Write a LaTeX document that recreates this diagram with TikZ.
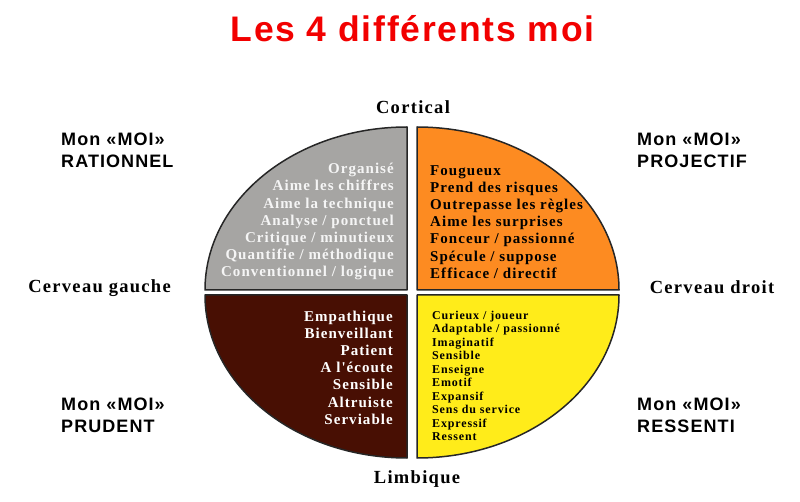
\documentclass[tikz,border=0pt]{standalone}
\usepackage{fontspec}
\setmainfont{Liberation Serif}
\newfontfamily\titlefont[LetterSpace=5]{Liberation Sans}
\newfontfamily\moifont[LetterSpace=6]{Liberation Sans}
\newfontfamily\listfont[LetterSpace=7]{Liberation Serif}
\usetikzlibrary{positioning}
\definecolor{quadgray}{RGB}{166,165,163}
\definecolor{quadorange}{RGB}{253,139,33}
\definecolor{quadbrown}{RGB}{72,15,3}
\definecolor{quadyellow}{RGB}{255,236,26}
\tikzstyle{quad} = [draw=black!85, line width=1.5pt, line join=round]
\tikzstyle{moi} = [font=\moifont\fontsize{18}{22}\selectfont\bfseries, align=left, anchor=west, inner sep=0pt]
\tikzstyle{axe} = [font=\listfont\fontsize{18.5}{20}\selectfont\bfseries, inner sep=0pt]
\tikzstyle{biglist} = [font=\listfont\fontsize{15}{17.2}\selectfont\bfseries, inner sep=0pt]
\tikzstyle{smalllist} = [font=\listfont\fontsize{12}{13.55}\selectfont\bfseries, inner sep=0pt]
\begin{document}
\begin{tikzpicture}[x=1pt, y=-1pt]
  \useasboundingbox (0,0) rectangle (800,502);
  \node [font=\titlefont\fontsize{35.5}{40}\selectfont\bfseries, red!95!black, inner sep=0pt] (title) at (412.5,29) {Les 4 différents moi};
  % the four quarters
  \draw [quad, fill=quadgray] (205,290) arc [start angle=180, end angle=270, x radius=202, y radius=163] -- (407,290) -- cycle;
  \draw [quad, fill=quadorange] (417,127) arc [start angle=270, end angle=360, x radius=202, y radius=163] -- (417,290) -- cycle;
  \draw [quad, fill=quadbrown] (205,295) arc [start angle=180, end angle=90, x radius=202, y radius=163] -- (407,295) -- cycle;
  \draw [quad, fill=quadyellow] (619,295) arc [start angle=0, end angle=90, x radius=202, y radius=163] -- (417,295) -- cycle;
  % lists
  \node [biglist, white!92!gray, align=right, anchor=north east] (rationnel) at (394,163) {Organisé\\Aime les chiffres\\Aime la technique\\Analyse / ponctuel\\Critique / minutieux\\Quantifie / méthodique\\Conventionnel / logique};
  \node [biglist, black, align=left, anchor=north west] (projectif) at (430,165) {Fougueux\\Prend des risques\\Outrepasse les règles\\Aime les surprises\\Fonceur / passionné\\Spécule / suppose\\Efficace / directif};
  \node [biglist, white, align=right, anchor=north east] (prudent) at (393,310.5) {Empathique\\Bienveillant\\Patient\\A l'écoute\\Sensible\\Altruiste\\Serviable};
  \node [smalllist, black, align=left, anchor=north west] (ressenti) at (432,310.5) {Curieux / joueur\\Adaptable / passionné\\Imaginatif\\Sensible\\Enseigne\\Emotif\\Expansif\\Sens du service\\Expressif\\Ressent};
  % axes
  \node [axe] (cortical) at (413,107) {Cortical};
  \node [axe] (limbique) at (417,479) {Limbique};
  \node [axe] (gauche) at (99.5,288) {Cerveau gauche};
  \node [axe] (droit) at (712,287) {Cerveau droit};
  % names
  \node [moi] (moi1) at (61,150) {Mon «MOI»\\RATIONNEL};
  \node [moi] (moi2) at (637,150) {Mon «MOI»\\PROJECTIF};
  \node [moi] (moi3) at (61,415) {Mon «MOI»\\PRUDENT};
  \node [moi] (moi4) at (637,415) {Mon «MOI»\\RESSENTI};
\end{tikzpicture}
\end{document}
